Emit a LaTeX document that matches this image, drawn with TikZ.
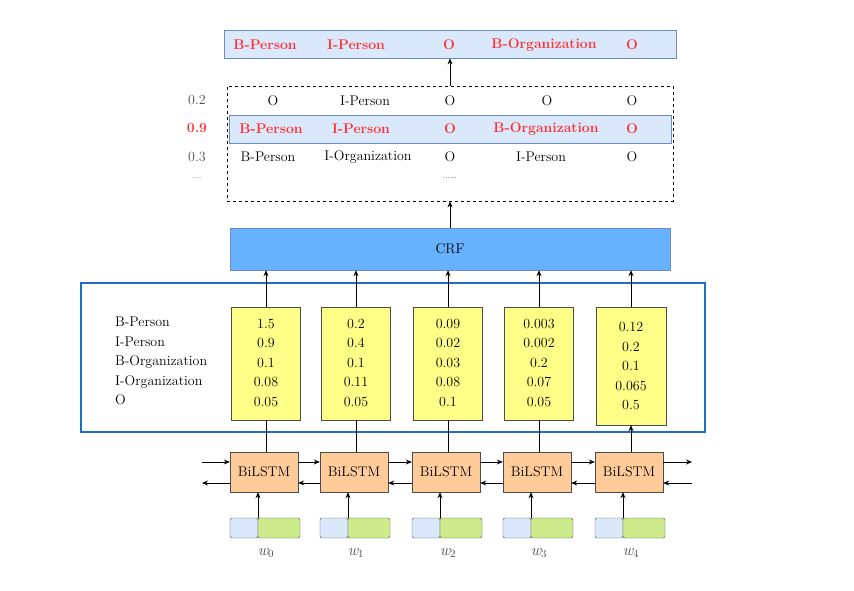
\documentclass[tikz,border=0pt]{standalone}
\usetikzlibrary{arrows.meta}
\definecolor{lblue}{HTML}{DAE8FC}\definecolor{bblue}{HTML}{6C8EBF}
\definecolor{crf}{HTML}{66B2FF}\definecolor{frame}{HTML}{1F70C1}
\definecolor{yel}{HTML}{FFFF88}\definecolor{orng}{HTML}{FFCC99}
\definecolor{grn}{HTML}{CDEB8B}\definecolor{redt}{HTML}{FF3333}
\begin{document}
\begin{tikzpicture}[x=1pt,y=-1pt,font=\fontsize{14}{19.5}\selectfont,
 arr/.style={-{Stealth[length=6pt,width=5pt]},line width=0.8pt},
 hl/.style={draw=bblue,fill=lblue,line width=0.8pt},
 rt/.style={text=redt,font=\fontsize{14}{17}\selectfont\bfseries},
 yb/.style={draw=black!70,fill=yel},
 lb/.style={draw=black!70,fill=orng,minimum width=68pt,minimum height=40pt,inner sep=0pt},
 val/.style={align=center}]
\useasboundingbox (0,0) rectangle (854,591);
% output
\node[hl,minimum width=452pt,minimum height=28pt,inner sep=0pt] (out) at (450,44) {};
\foreach \x/\t in {265/B-Person,356/I-Person,449/O,544/B-Organization,632/O}
  \node[rt] at (\x,45) {\t};
% candidate box
\node[draw,dashed,line width=0.8pt,minimum width=446pt,minimum height=115pt,inner sep=0pt] (cand) at (450,143.5) {};
\node[hl,minimum width=442pt,minimum height=28pt,inner sep=0pt] (best) at (450,129) {};
\foreach \x/\t in {273/O,365/I-Person,450/O,547/O,632/O} \node at (\x,101) {\t};
\foreach \x/\t in {268/B-Person,368/I-Organization,450/O,541/I-Person,632/O} \node at (\x,157) {\t};
\foreach \x/\t in {271/B-Person,361/I-Person,450/O,546/B-Organization,632/O} \node[rt] at (\x,129) {\t};
\node at (450,178) {\footnotesize ......};
\node[text=black!70] at (197,100) {0.2};
\node[rt] at (197,128) {0.9};
\node[text=black!70] at (197,157) {0.3};
\node[text=black!70] at (197,179) {\footnotesize ---};
\draw[arr] (cand.north -| out.south) -- (out.south);
% CRF
\node[draw=bblue,fill=crf,minimum width=440pt,minimum height=42pt,inner sep=0pt] (crf) at (450,249) {CRF};
\draw[arr] (crf.north) -- (cand.south);
% frame
\draw[frame,line width=1.2pt] (81,283) rectangle (705,432);
\node[anchor=north west,align=left,inner sep=0pt] at (115,317) {B-Person\\I-Person\\B-Organization\\I-Organization\\O};
% yellow boxes
\foreach \i/\x/\v in {0/266/{1.5\\0.9\\0.1\\0.08\\0.05},1/356/{0.2\\0.4\\0.1\\0.11\\0.05},2/448/{0.09\\0.02\\0.03\\0.08\\0.1},3/539/{0.003\\0.002\\0.2\\0.07\\0.05}}
  \node[yb,val,minimum width=69pt,minimum height=113pt,inner sep=0pt,anchor=north,text width=50pt] (y\i) at (\x,307) {\\[-12pt]\v};
\node[yb,val,minimum width=70pt,minimum height=118pt,inner sep=0pt] (y4) at (631,366) {0.12\\0.2\\0.1\\0.065\\0.5};
\foreach \i in {0,...,4} \draw[arr] (y\i.north) -- (y\i.north |- crf.south);
% BiLSTM
\foreach \i/\x in {0/266,1/356,2/448,3/539,4/631} {
  \node[lb] (b\i) at (\x-2,472) {BiLSTM};
  \draw[draw=black!70,fill=lblue,rounded corners=2pt] (\x-36,518) rectangle (\x-8,538);
  \draw[draw=black!70,fill=grn,rounded corners=2pt] (\x-8,518) rectangle (\x+34,538);
  \coordinate (e\i) at (\x-8,518);
  \draw[arr] (e\i) -- (e\i |- b\i.south);
  \node[font=\fontsize{16}{18}\selectfont\itshape,text=black!70] at (\x,553) {w$_{\i}$};
}
\foreach \i in {0,...,3} \draw[line width=0.8pt] (y\i.south |- b\i.north) -- (y\i.south);
\draw[arr] (y4.south |- b4.north) -- (y4.south);
\foreach \i/\j in {0/1,1/2,2/3,3/4} {
  \draw[arr] ([yshift=10pt]b\i.east) -- ([yshift=10pt]b\j.west);
  \draw[arr] ([yshift=-11pt]b\j.west) -- ([yshift=-11pt]b\i.east);
}
\coordinate (lin) at (202,462); \coordinate (lout) at (202,483);
\coordinate (rout) at (692,462); \coordinate (rin) at (692,483);
\draw[arr] (lin) -- (lin -| b0.west);
\draw[arr] (lout -| b0.west) -- (lout);
\draw[arr] (rout -| b4.east) -- (rout);
\draw[arr] (rin) -- (rin -| b4.east);
\end{tikzpicture}
\end{document}
